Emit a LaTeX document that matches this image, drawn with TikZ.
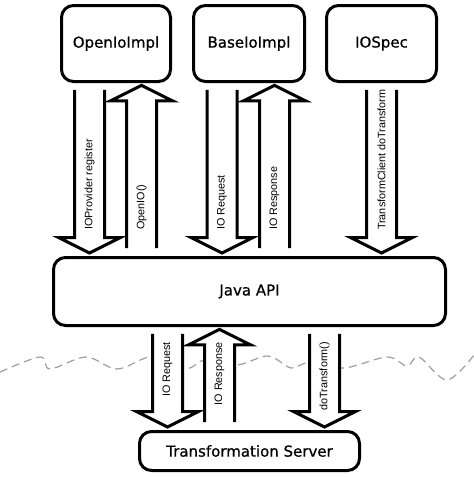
\documentclass[tikz,border=0pt]{standalone}
\usepackage{fontspec}
\setmainfont{DejaVu Sans}
\newfontfamily\boxfont[FakeBold=0.7]{DejaVu Sans}
\newfontfamily\lblfont{Liberation Sans}
\usetikzlibrary{calc}
% block arrow pointing down: #1 x centre, #2 upper node, #3 lower node
\newcommand\arrdown[3]{%
  \draw[blk] let \p1=(#2.south), \p2=(#3.north) in
    (#1pt-15pt,\y1-6.8pt) -- (#1pt-15pt,\y2+18.5pt) -- (#1pt-31pt,\y2+18.5pt)
    -- (#1pt,\y2+3pt) -- (#1pt+31pt,\y2+18.5pt) -- (#1pt+15pt,\y2+18.5pt)
    -- (#1pt+15pt,\y1-6.8pt);}
% block arrow pointing up: #1 x centre, #2 upper node, #3 lower node
\newcommand\arrup[3]{%
  \draw[blk] let \p1=(#2.south), \p2=(#3.north) in
    (#1pt-15pt,\y2+7.8pt) -- (#1pt-15pt,\y1-17.8pt) -- (#1pt-31pt,\y1-17.8pt)
    -- (#1pt,\y1-2.4pt) -- (#1pt+31pt,\y1-17.8pt) -- (#1pt+15pt,\y1-17.8pt)
    -- (#1pt+15pt,\y2+7.8pt);}
\begin{document}
\begin{tikzpicture}[x=1pt,y=-1pt,
  box/.style={draw, line width=3pt, rounded corners=12pt, fill=white,
    font=\boxfont\fontsize{15}{18}\selectfont, inner sep=0pt},
  blk/.style={draw, line width=3pt, fill=white, line join=miter},
  lbl/.style={font=\lblfont\fontsize{10.8}{12}\selectfont, rotate=90, inner sep=0pt},
  wave/.style={draw=black!38, line width=1.2pt, dash pattern=on 8pt off 5pt}]
\useasboundingbox (0,0) rectangle (474,477);

% boxes
\node[box, minimum width=109pt, minimum height=76pt] (oi) at (116,43.5) {OpenIoImpl};
\node[box, minimum width=111pt, minimum height=76pt] (bi) at (249,43.5) {BaseIoImpl};
\node[box, minimum width=110pt, minimum height=76pt] (ios) at (381.5,43.5) {IOSpec};
\node[box, minimum width=392pt, minimum height=68pt] (java) at (249.5,291.5) {Java API};
\node[box, minimum width=220pt, minimum height=39pt] (ts) at (249.5,451) {Transformation Server};

% wavy boundary line
\draw[wave] plot[smooth, tension=0.55] coordinates {(0,372) (40,357) (50,369) (86,357)
  (117,369) (150,357) (175,366) (190,368) (205,360) (237,365) (268,356) (291,368)
  (308,363) (344,368) (387,357) (407,366) (419,357) (447,380) (474,355)};

% top arrows
\arrdown{89.5}{oi}{java}
\arrup{141.5}{oi}{java}
\arrdown{222}{bi}{java}
\arrup{274.5}{bi}{java}
\arrdown{381.5}{ios}{java}
% bottom arrows
\arrdown{167.5}{java}{ts}
\arrup{219.5}{java}{ts}
\arrdown{324.5}{java}{ts}

% labels
\node[lbl, anchor=west] (l1) at (89.5,230) {IOProvider register};
\node[lbl, anchor=west] (l2) at (141.5,230) {OpenIO()};
\node[lbl, anchor=west] (l3) at (222,230) {IO Request};
\node[lbl, anchor=west] (l4) at (274.5,230) {IO Response};
\node[lbl, anchor=west] (l5) at (381.5,230) {TransformClient doTransform};
\node[lbl, anchor=east] (l6) at (167.5,342) {IO Request};
\node[lbl, anchor=east] (l7) at (219.5,342) {IO Response};
\node[lbl, anchor=east] (l8) at (324.5,342) {doTransform()};
\end{tikzpicture}
\end{document}
